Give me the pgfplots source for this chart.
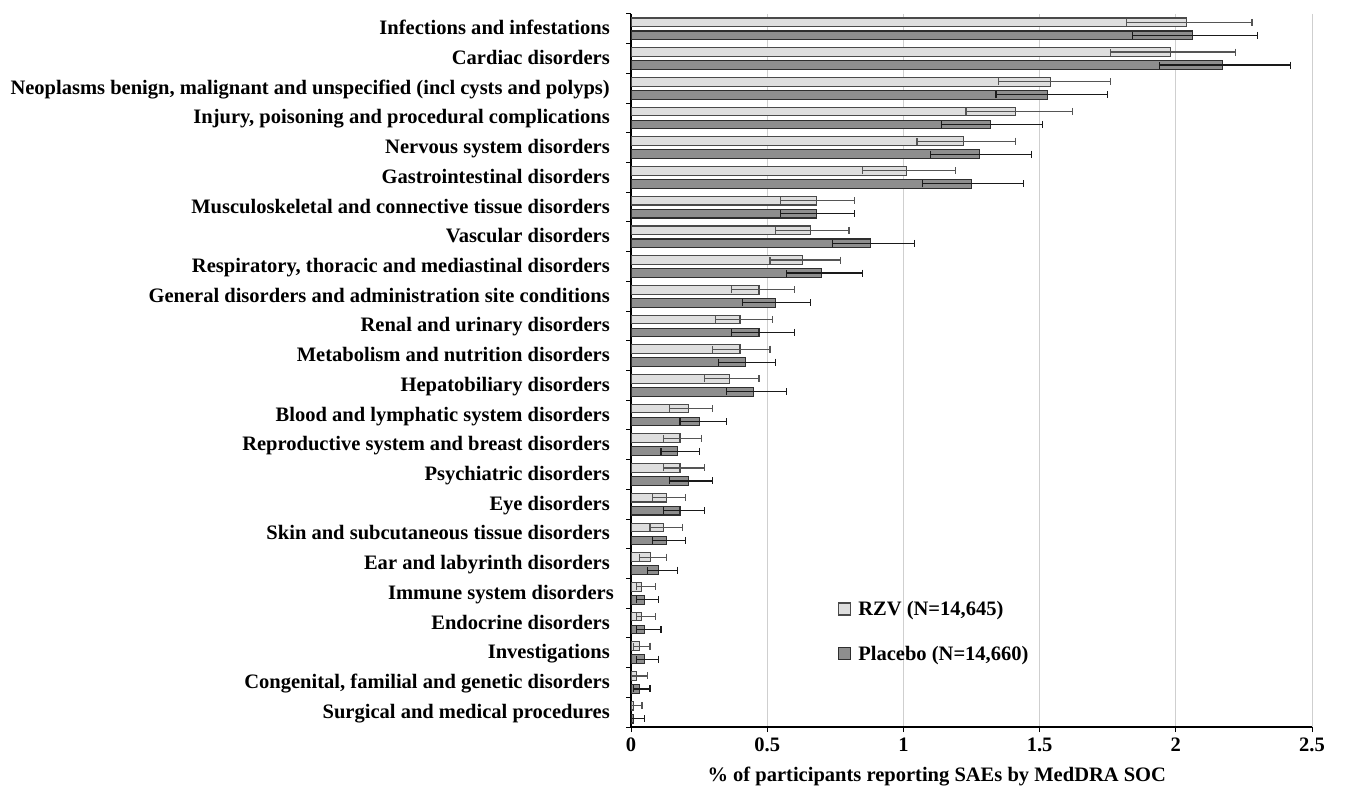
\documentclass[border=0pt]{standalone}
\usepackage{pgfplots}
\usepackage{pgfplotstable}
\pgfplotsset{compat=1.18}
\usepackage{fontspec}
\setmainfont{Liberation Serif}

\definecolor{rzvfill}{HTML}{DEDEDE}
\definecolor{rzvedge}{HTML}{4A4A4A}
\definecolor{rzverr}{HTML}{555555}
\definecolor{plafill}{HTML}{8E8E8E}
\definecolor{plaedge}{HTML}{2E2E2E}
\definecolor{plaerr}{HTML}{1A1A1A}
\definecolor{gridgray}{HTML}{CFCFCF}

% i: category index (top to bottom)
% rv/rlo/rhi: RZV rate with 95% CI; pv/plo/phi: placebo rate with 95% CI
\pgfplotstableread{
i  rv   rlo  rhi   pv   plo  phi
0  2.04 1.82 2.28  2.06 1.84 2.30
1  1.98 1.76 2.22  2.17 1.94 2.42
2  1.54 1.35 1.76  1.53 1.34 1.75
3  1.41 1.23 1.62  1.32 1.14 1.51
4  1.22 1.05 1.41  1.28 1.10 1.47
5  1.01 0.85 1.19  1.25 1.07 1.44
6  0.68 0.55 0.82  0.68 0.55 0.82
7  0.66 0.53 0.80  0.88 0.74 1.04
8  0.63 0.51 0.77  0.70 0.57 0.85
9  0.47 0.37 0.60  0.53 0.41 0.66
10 0.40 0.31 0.52  0.47 0.37 0.60
11 0.40 0.30 0.51  0.42 0.32 0.53
12 0.36 0.27 0.47  0.45 0.35 0.57
13 0.21 0.14 0.30  0.25 0.18 0.35
14 0.18 0.12 0.26  0.17 0.11 0.25
15 0.18 0.12 0.27  0.21 0.14 0.30
16 0.13 0.08 0.20  0.18 0.12 0.27
17 0.12 0.07 0.19  0.13 0.08 0.20
18 0.07 0.03 0.13  0.10 0.06 0.17
19 0.04 0.02 0.09  0.05 0.02 0.10
20 0.04 0.02 0.09  0.05 0.02 0.11
21 0.03 0.01 0.07  0.05 0.02 0.10
22 0.02 0.00 0.06  0.03 0.01 0.07
23 0.01 0.00 0.04  0.01 0.00 0.05
}\soc

\newcommand{\lblfont}{\fontsize{20.6}{24}\selectfont\bfseries}

\begin{document}
\begin{tikzpicture}[x=1bp,y=1bp]
\useasboundingbox (0,0) rectangle (1358,802);
\begin{axis}[
  at={(631bp,75bp)}, anchor=south west,
  width=681bp, height=713bp, scale only axis,
  xbar, bar width=8.7bp,
  y dir=reverse,
  xmin=0, xmax=2.5, ymin=-0.5, ymax=23.5,
  axis x line*=bottom, axis y line*=left,
  axis line style={line width=1.2bp, black, -},
  xtick={0,0.5,...,2.5},
  minor xtick={0,0.5,...,2.5},
  ytick={0,...,23},
  minor ytick={-0.5,0.5,...,23.5},
  major tick length=0pt, minor tick length=5bp,
  tick align=outside,
  minor tick style={line width=1bp, black},
  xmajorgrids, major grid style={gridgray, line width=1bp},
  yticklabels={
    Infections and infestations,
    Cardiac disorders,
    {Neoplasms benign, malignant and unspecified (incl cysts and polyps)},
    {Injury, poisoning and procedural complications},
    Nervous system disorders,
    Gastrointestinal disorders,
    Musculoskeletal and connective tissue disorders,
    Vascular disorders,
    {Respiratory, thoracic and mediastinal disorders},
    General disorders and administration site conditions,
    Renal and urinary disorders,
    Metabolism and nutrition disorders,
    Hepatobiliary disorders,
    Blood and lymphatic system disorders,
    Reproductive system and breast disorders,
    Psychiatric disorders,
    Eye disorders,
    Skin and subcutaneous tissue disorders,
    Ear and labyrinth disorders,
    \hbox to 0pt{}Immune system disorders\kern-4bp,
    Endocrine disorders,
    Investigations,
    {Congenital, familial and genetic disorders},
    Surgical and medical procedures},
  yticklabel style={font=\lblfont, inner sep=0pt, anchor=base east, xshift=-21bp, yshift=-6bp},
  xticklabel style={font=\lblfont, inner sep=0pt, anchor=north, yshift=-11bp},
  /pgf/number format/assume math mode=true,
  xlabel={\% of participants reporting SAEs by MedDRA SOC},
  xlabel style={font=\lblfont, at={(axis description cs:0.449,0)}, anchor=center, yshift=-50bp},
  legend style={draw=none, fill=none, font=\lblfont,
    at={(axis description cs:0.304,0.181)}, anchor=north west,
    inner sep=0pt, row sep=23bp,
    nodes={inner xsep=7bp, inner ysep=3bp}},
  legend cell align=left,
  legend image code/.code={\draw[#1] (0bp,-6bp) rectangle (12bp,6bp);},
]
\addplot[xbar, bar shift=6.5bp, fill=rzvfill, draw=rzvedge, line width=1.1bp,
  error bars/.cd, x dir=both, x explicit,
  error bar style={rzverr, line width=1.2bp},
  error mark options={rzverr, line width=1.2bp, mark size=3.5bp, rotate=90}]
  table[x=rv, y=i,
        x error plus expr=\thisrow{rhi}-\thisrow{rv},
        x error minus expr=\thisrow{rv}-\thisrow{rlo}] {\soc};
\addlegendentry{RZV (N=14,645)}
\addplot[xbar, bar shift=-6.5bp, fill=plafill, draw=plaedge, line width=1.1bp,
  error bars/.cd, x dir=both, x explicit,
  error bar style={plaerr, line width=1.2bp},
  error mark options={plaerr, line width=1.2bp, mark size=3.5bp, rotate=90}]
  table[x=pv, y=i,
        x error plus expr=\thisrow{phi}-\thisrow{pv},
        x error minus expr=\thisrow{pv}-\thisrow{plo}] {\soc};
\addlegendentry{Placebo (N=14,660)}
\end{axis}
\end{tikzpicture}
\end{document}
